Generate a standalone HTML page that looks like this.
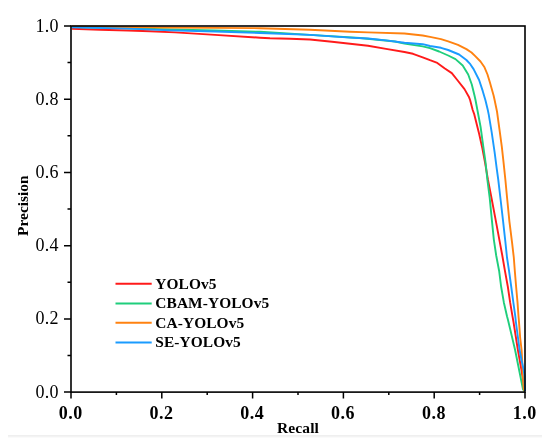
<!DOCTYPE html><html><head><meta charset="utf-8"><title>PR curve</title><style>html,body{margin:0;padding:0;background:#fff}body{width:550px;height:445px;overflow:hidden}svg{display:block}text{font-family:"Liberation Serif","Times New Roman",serif;fill:#000}</style></head><body>
<svg width="550" height="445" viewBox="0 0 550 445">
<rect x="0" y="0" width="550" height="445" fill="#fff"/>
<rect x="8" y="435" width="534" height="1" fill="#efefef"/><rect x="8" y="436" width="534" height="1" fill="#f3f3f3"/><rect x="8" y="437" width="534" height="1" fill="#fafafa"/>
<polyline points="72,28.8 100,29.8 128,30.5 150,31.3 175,32.4 215,34.9 260,37.7 270,38.2 290,38.7 310,39.5 332,41.8 350,43.8 368,45.7 386,48.9 404.5,52 413,53.8 422.7,57.3 430,60.2 437.3,62.9 444.5,68.2 451.8,73.1 457.3,80 464.5,89.1 469.1,97.3 470.1,100 472.7,110 474.3,114.4 478.8,132.4 482.4,148.5 485.1,162.9 488,180 491.5,198 495.6,219.6 499.6,241.1 502.2,255 504.9,270.7 507.8,286.5 510.1,302.2 512.5,316.3 513.5,322 517.9,350 521.9,372.5 524.5,391" fill="none" stroke="#ff1a1a" stroke-width="1.9" stroke-linejoin="round" stroke-linecap="butt"/>
<polyline points="72,27 120,28 170,29.5 215,30.5 260,31.8 310,34.9 360,38 395,41.5 404.5,43.6 422.7,46.4 430,48.2 439.1,51.5 448.2,55.5 455.5,59.1 462.7,65.5 468.2,74.5 471.8,84.5 474.5,95.5 475.5,100 477.4,110 480.6,127 483.3,146.7 485.6,162.9 487.4,180 489.7,198 492,221.3 493.8,239.3 496.2,255.5 499.1,270.7 501.1,286.5 503.8,302.2 507,316.3 508,320 515.1,350 523,389.3 524.5,391" fill="none" stroke="#1fce7c" stroke-width="1.9" stroke-linejoin="round" stroke-linecap="butt"/>
<polyline points="72,26.5 120,27 170,27.6 260,28.2 310,29.8 350,31.8 368,32.4 404.5,33.5 422.7,35.5 430,36.9 441,39.1 448.2,41.3 458,44.8 466.4,49.1 471.5,52.5 475.5,56.4 480.5,61.5 484.5,67.3 487.5,74.5 490,82.7 493.6,95.5 494.6,100 497,111.5 499.4,128.8 501.8,146.7 503.6,162.9 505.4,180 507.1,198 509.4,221.3 512.1,242.9 513.8,257.5 514.8,270.7 516.1,286.5 517.5,302.2 518.5,316.3 519,322 520.2,338 521.6,350 522.4,365 523,378 523.6,388 524.5,391" fill="none" stroke="#ff8210" stroke-width="1.9" stroke-linejoin="round" stroke-linecap="butt"/>
<polyline points="72,27.3 128,28.6 170,30.4 215,31.5 260,33 310,34.9 350,37.6 368,38.5 386,40.4 404.5,42.7 422.7,44.2 430,46 441,47.8 448.2,50 459.1,54.5 466.4,60 470.3,64.2 473.6,69.1 479.1,80 482.7,90.9 485.5,100.5 487.8,110 488.7,114.4 491.7,132.4 494.6,152.1 496.7,168.3 498.3,180 500.4,198 503.1,221.3 505.3,241.1 507,257.5 509,270.7 511.2,286.5 513.3,302.2 515.3,316.3 515.9,322 519.6,350 521.5,360 523.5,369 524.6,376 525,391" fill="none" stroke="#1a9bff" stroke-width="1.9" stroke-linejoin="round" stroke-linecap="butt"/>
<rect x="71" y="26" width="454" height="366.1" fill="none" stroke="#000" stroke-width="1.6"/>
<path d="M71,392.1V398.4M71,392.1H64M116.4,392.1V395.1M71,355.49H67.5M161.8,392.1V398.4M71,318.88H64M207.2,392.1V395.1M71,282.27H67.5M252.6,392.1V398.4M71,245.66H64M298,392.1V395.1M71,209.05H67.5M343.4,392.1V398.4M71,172.44H64M388.8,392.1V395.1M71,135.83H67.5M434.2,392.1V398.4M71,99.22H64M479.6,392.1V395.1M71,62.61H67.5M525,392.1V398.4M71,26H64" stroke="#000" stroke-width="1.5" fill="none"/>
<text x="70.7" y="418.6" font-size="18" font-weight="bold" text-anchor="middle" letter-spacing="0.5">0.0</text>
<text x="58.8" y="397.7" font-size="18" text-anchor="end" letter-spacing="0.3">0.0</text>
<text x="161.5" y="418.6" font-size="18" font-weight="bold" text-anchor="middle" letter-spacing="0.5">0.2</text>
<text x="58.8" y="324.48" font-size="18" text-anchor="end" letter-spacing="0.3">0.2</text>
<text x="252.3" y="418.6" font-size="18" font-weight="bold" text-anchor="middle" letter-spacing="0.5">0.4</text>
<text x="58.8" y="251.26" font-size="18" text-anchor="end" letter-spacing="0.3">0.4</text>
<text x="343.1" y="418.6" font-size="18" font-weight="bold" text-anchor="middle" letter-spacing="0.5">0.6</text>
<text x="58.8" y="178.04" font-size="18" text-anchor="end" letter-spacing="0.3">0.6</text>
<text x="433.9" y="418.6" font-size="18" font-weight="bold" text-anchor="middle" letter-spacing="0.5">0.8</text>
<text x="58.8" y="104.82" font-size="18" text-anchor="end" letter-spacing="0.3">0.8</text>
<text x="524.7" y="418.6" font-size="18" font-weight="bold" text-anchor="middle" letter-spacing="0.5">1.0</text>
<text x="58.8" y="31.6" font-size="18" text-anchor="end" letter-spacing="0.3">1.0</text>
<text x="298" y="433" font-size="15.5" font-weight="bold" text-anchor="middle" letter-spacing="0.1">Recall</text>
<text transform="translate(27.5,205.7) rotate(-90)" font-size="15.4" font-weight="bold" text-anchor="middle">Precision</text>
<line x1="115.5" y1="283.7" x2="151.7" y2="283.7" stroke="#ff1a1a" stroke-width="2"/>
<text x="155.3" y="288.5" font-size="15.4" font-weight="bold" letter-spacing="0.1">YOLOv5</text>
<line x1="115.5" y1="303.4" x2="151.7" y2="303.4" stroke="#1fce7c" stroke-width="2"/>
<text x="155.3" y="308.2" font-size="15.4" font-weight="bold" letter-spacing="0.1">CBAM-YOLOv5</text>
<line x1="115.5" y1="322.8" x2="151.7" y2="322.8" stroke="#ff8210" stroke-width="2"/>
<text x="155.3" y="327.6" font-size="15.4" font-weight="bold" letter-spacing="0.1">CA-YOLOv5</text>
<line x1="115.5" y1="342.6" x2="151.7" y2="342.6" stroke="#1a9bff" stroke-width="2"/>
<text x="155.3" y="347.4" font-size="15.4" font-weight="bold" letter-spacing="0.1">SE-YOLOv5</text>
</svg></body></html>
